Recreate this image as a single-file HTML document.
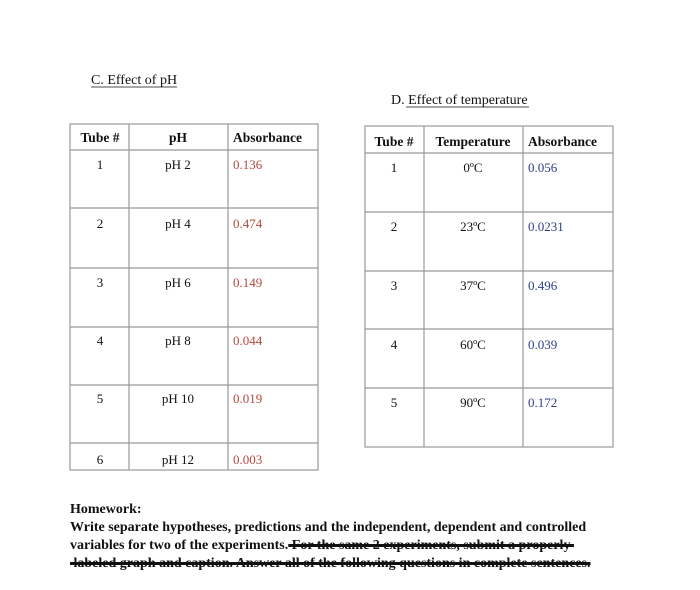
<!DOCTYPE html>
<html><head><style>
body{margin:0;background:#fff;width:700px;height:590px;overflow:hidden;font-family:"Liberation Serif",serif;}
svg{position:absolute;left:0;top:0}
text{font-family:"Liberation Serif",serif;font-size:13px;fill:#111}
.b{font-weight:bold;font-size:13.5px}
.r{fill:#b5473e}
.u{fill:#2f3f86}
.hw{position:absolute;left:70px;top:501px;font-weight:bold;font-size:14px;line-height:18px;color:#111;white-space:nowrap}
.st{text-decoration:line-through;text-decoration-thickness:2.5px}
</style></head><body>
<svg width="700" height="590">
<g stroke="#999" stroke-width="1.2" fill="none">
<rect x="70" y="124" width="248" height="346"/>
<line x1="129" y1="124" x2="129" y2="470"/><line x1="228" y1="124" x2="228" y2="470"/>
<line x1="70" y1="150" x2="318" y2="150"/><line x1="70" y1="208" x2="318" y2="208"/>
<line x1="70" y1="268" x2="318" y2="268"/><line x1="70" y1="327" x2="318" y2="327"/>
<line x1="70" y1="385" x2="318" y2="385"/><line x1="70" y1="443" x2="318" y2="443"/>
<rect x="365" y="126" width="248" height="321"/>
<line x1="424" y1="126" x2="424" y2="447"/><line x1="523" y1="126" x2="523" y2="447"/>
<line x1="365" y1="153" x2="613" y2="153"/><line x1="365" y1="212" x2="613" y2="212"/>
<line x1="365" y1="271" x2="613" y2="271"/><line x1="365" y1="329" x2="613" y2="329"/>
<line x1="365" y1="388" x2="613" y2="388"/>
</g>
<text x="91" y="84" style="font-size:14px">C. Effect of pH</text>
<line x1="91" y1="87" x2="177" y2="87" stroke="#111" stroke-width="0.8"/>
<text x="391" y="104" style="font-size:14px">D. Effect of temperature</text>
<line x1="406" y1="107" x2="529" y2="107" stroke="#111" stroke-width="0.8"/>

<g text-anchor="middle">
<text x="100" y="142" class="b">Tube #</text><text x="178" y="142" class="b">pH</text>
<text x="100" y="169">1</text><text x="178" y="169">pH 2</text>
<text x="100" y="228">2</text><text x="178" y="228">pH 4</text>
<text x="100" y="287">3</text><text x="178" y="287">pH 6</text>
<text x="100" y="345">4</text><text x="178" y="345">pH 8</text>
<text x="100" y="403">5</text><text x="178" y="403">pH 10</text>
<text x="100" y="464">6</text><text x="178" y="464">pH 12</text>
<text x="394" y="146" class="b">Tube #</text><text x="473" y="146" class="b">Temperature</text>
<text x="394" y="172">1</text><text x="473" y="172">0ºC</text>
<text x="394" y="231">2</text><text x="473" y="231">23ºC</text>
<text x="394" y="290">3</text><text x="473" y="290">37ºC</text>
<text x="394" y="349">4</text><text x="473" y="349">60ºC</text>
<text x="394" y="407">5</text><text x="473" y="407">90ºC</text>
</g>
<text x="233" y="142" class="b">Absorbance</text>
<text x="233" y="169" class="r">0.136</text>
<text x="233" y="228" class="r">0.474</text>
<text x="233" y="287" class="r">0.149</text>
<text x="233" y="345" class="r">0.044</text>
<text x="233" y="403" class="r">0.019</text>
<text x="233" y="464" class="r">0.003</text>
<text x="528" y="146" class="b">Absorbance</text>
<text x="528" y="172" class="u">0.056</text>
<text x="528" y="231" class="u">0.0231</text>
<text x="528" y="290" class="u">0.496</text>
<text x="528" y="349" class="u">0.039</text>
<text x="528" y="407" class="u">0.172</text>
</svg>
<div class="hw">Homework:<br>Write separate hypotheses, predictions and the independent, dependent and controlled<br>variables for two of the experiments.<span class="st">&nbsp;For the same 2 experiments, submit a properly&nbsp;</span><br><span class="st">&nbsp;labeled graph and caption. Answer all of the following questions in complete sentences.</span></div>
</body></html>
